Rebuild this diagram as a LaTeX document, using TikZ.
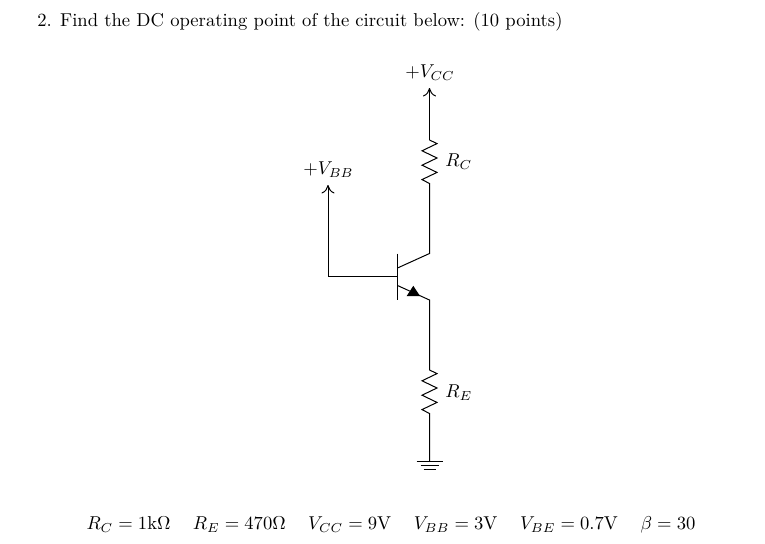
\documentclass[tikz,border=0pt]{standalone}
\usetikzlibrary{arrows.meta,calc}
\tikzset{
  wire/.style={line width=0.65pt,black},
  railarrow/.style={wire,-{To[length=5.5pt,width=8.5pt]}},
  lbl/.style={inner sep=0pt,text=black,scale=1.21}
}
\newcommand{\valgap}{\quad\hspace{2pt}}
\begin{document}
\begin{tikzpicture}[x=0.65pt,y=-0.65pt]
\useasboundingbox (0,0) rectangle (765,543);
% named points
\coordinate (vcc) at (429.5,88);
\coordinate (rct) at (429.5,140);
\coordinate (rcb) at (429.5,183.5);
\coordinate (col) at (429.5,253.5);
\coordinate (bc) at (397.5,268);
\coordinate (be) at (397.5,285.5);
\coordinate (em) at (429.5,300);
\coordinate (bartop) at (397.5,253.5);
\coordinate (barbot) at (397.5,300);
\coordinate (base) at (397.5,276.8);
\coordinate (bcorner) at (328,276.8);
\coordinate (vbb) at (328,185);
\coordinate (ret) at (429.5,370);
\coordinate (reb) at (429.5,413.5);
\coordinate (gnd) at (429.5,461.5);
% supply, resistors
\draw[railarrow] (rct) -- (vcc);
\draw[wire] (rct) -- ++(7.5,3.6) -- ++(-15,7.2) -- ++(15,7.2) -- ++(-15,7.2) -- ++(15,7.2) -- ++(-15,7.2) -- (rcb) -- (col) -- (bc);
\draw[wire] (ret) -- ++(7.5,3.6) -- ++(-15,7.2) -- ++(15,7.2) -- ++(-15,7.2) -- ++(15,7.2) -- ++(-15,7.2) -- (reb) -- (gnd);
% transistor
\draw[wire] (bartop) -- (barbot);
\draw[wire] (be) -- (em) -- (ret);
\fill (413.3,285.8) -- (420,296) -- (406.7,296) -- cycle;
\draw[railarrow] (base) -- (bcorner) -- (vbb);
% ground
\draw[wire] (416.5,461.5) -- (443,461.5);
\draw[wire] (420.5,465.3) -- (439,465.3);
\draw[wire] (423.5,469) -- (435.5,469);
% labels
\node[lbl,anchor=west] (title) at (37,22) {2. Find the DC operating point of the circuit below: (10 points)};
\node[lbl] (lvcc) at (430,72.5) {$+V_{CC}$};
\node[lbl] (lvbb) at (328.5,169.5) {$+V_{BB}$};
\node[lbl,anchor=west] (lrc) at (445,162) {$R_C$};
\node[lbl,anchor=west] (lre) at (445,393) {$R_E$};
\node[lbl] (vals) at (391,525) {$R_C=1\mathrm{k}\Omega\valgap R_E=470\Omega\valgap V_{CC}=9\mathrm{V}\valgap V_{BB}=3\mathrm{V}\valgap V_{BE}=0.7\mathrm{V}\valgap \beta=30$};
\end{tikzpicture}
\end{document}
